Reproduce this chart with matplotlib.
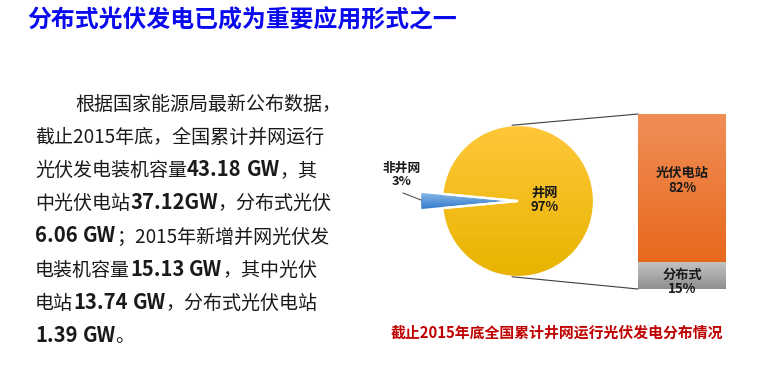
import numpy as np
import matplotlib
matplotlib.use("Agg")
import matplotlib.pyplot as plt
from matplotlib.colors import to_rgb
from matplotlib.patches import ConnectionPatch

plt.rcParams["font.family"] = ["Noto Sans CJK SC", "DejaVu Sans"]

# data
pie_labels = ["井网", "非井网"]
pie_values = [97, 3]
bar_labels = ["分布式", "光伏电站"]
bar_values = [15, 82]

title = "分布式光伏发电已成为重要应用形式之一"
caption = "截止2015年底全国累计井网运行光伏发电分布情况"

body_lines = [
    [("根据国家能源局最新公布数据，", False)],
    [("截止2015年底，全国累计并网运行", False)],
    [("光伏发电装机容量", False), ("43.18 GW", True), ("，其", False)],
    [("中光伏电站", False), ("37.12GW", True), ("，分布式光伏", False)],
    [("6.06 GW", True), ("；2015年新增并网光伏发", False)],
    [("电装机容量", False), ("15.13 GW", True), ("，其中光伏", False)],
    [("电站", False), ("13.74 GW", True), ("，分布式光伏电站", False)],
    [("1.39 GW", True), ("。", False)],
]

W, H = 760, 367
fig = plt.figure(figsize=(W / 100, H / 100), dpi=100)
fig.patch.set_facecolor("white")


def py(y):
    # pixel row from the top -> axes y
    return H - y


def gradient(ax, patch, extent, c_top, c_bot, z):
    top = np.array(to_rgb(c_top))
    bot = np.array(to_rgb(c_bot))
    t = np.linspace(0, 1, 64)[:, None, None]
    img = bot * (1 - t) + top * t
    im = ax.imshow(img, extent=extent, origin="lower", aspect="auto",
                   zorder=z, interpolation="bilinear")
    im.set_clip_path(patch)
    patch.set_facecolor("none")


# pie (main axes in pixel units)
ax = fig.add_axes([0, 0, 1, 1])
cx, cy, r = 518, py(201), 76
start = 180 + pie_values[1] * 360 / sum(pie_values) / 2
wedges, _ = ax.pie(pie_values, startangle=start, radius=r, center=(cx, cy),
                   colors=["#FFC000", "#4A90D9"],
                   wedgeprops=dict(edgecolor="white", linewidth=1.6))
wedges[1].set_radius(r * 1.29)
wedges[0].set_zorder(3)
wedges[1].set_zorder(3)

for w, ct, cb in [(wedges[0], "#FFC73A", "#E8B400"),
                  (wedges[1], "#8DBDEB", "#2F78C8")]:
    e = w.get_path().get_extents()
    gradient(ax, w, [e.x0, e.x1, e.y0, e.y1], ct, cb, 2)

ax.set_xlim(0, W)
ax.set_ylim(0, H)
ax.set_aspect("auto")
ax.axis("off")

ax.text(545, py(200), f"{pie_labels[0]}\n{pie_values[0]}%", ha="center",
        va="center", fontsize=9.5, fontweight="bold", color="#1a1a1a",
        linespacing=1.05, zorder=5)
ax.text(402, py(175), f"{pie_labels[1]}\n{pie_values[1]}%", ha="center",
        va="center", fontsize=9.2, fontweight="bold", color="#1a1a1a",
        linespacing=1.05, zorder=5)
ax.plot([403, 421], [py(193), py(200)], color="#555555", lw=0.8, zorder=4)

# bar of the pie
ax_bar = fig.add_axes([638 / W, (H - 289) / H, 88 / W, 175 / H])
total = sum(bar_values)
bars_bot = ax_bar.bar(0, bar_values[0], width=1, bottom=0, color="#A6A6A6")
bars_top = ax_bar.bar(0, bar_values[1], width=1, bottom=bar_values[0],
                      color="#EE7A30")
gradient(ax_bar, bars_top[0], [-0.5, 0.5, bar_values[0], total],
         "#F08E58", "#E8691C", 1)
gradient(ax_bar, bars_bot[0], [-0.5, 0.5, 0, bar_values[0]],
         "#C4C4C4", "#8F8F8F", 1)
ax_bar.set_xlim(-0.5, 0.5)
ax_bar.set_ylim(0, total)
ax_bar.axis("off")

ax_bar.text(0, bar_values[0] + bar_values[1] * 0.55,
            f"{bar_labels[1]}\n{bar_values[1]}%", ha="center", va="center",
            fontsize=9.5, fontweight="bold", color="#1a1a1a", linespacing=1.1)
ax_bar.text(0, bar_values[0] * 0.25, f"{bar_labels[0]}\n{bar_values[0]}%",
            ha="center", va="center", fontsize=9.5, fontweight="bold",
            color="#1a1a1a", linespacing=1.0, clip_on=False)

# connector lines pie -> bar
ang = np.deg2rad(94.5)
for sgn, yb in [(1, total), (-1, 0)]:
    con = ConnectionPatch(xyA=(cx + r * np.cos(ang), cy + sgn * r * np.sin(ang)),
                          coordsA=ax.transData, xyB=(-0.5, yb),
                          coordsB=ax_bar.transData, color="#404040", lw=0.8)
    fig.add_artist(con)

# texts
fig.text(27 / W, 1 - 21 / H, title, ha="left", va="center", fontsize=17.2,
         fontweight="bold", color="#0A0AEE")
fig.text(557 / W, 1 - 333 / H, caption, ha="center", va="center",
         fontsize=10.7, fontweight="bold", color="#C00000")

renderer = fig.canvas.get_renderer()
space_px = 5
for i, segs in enumerate(body_lines):
    x = 35 + (40 if i == 0 else 0)
    base = 110 + i * 33.1
    for s, bold in segs:
        words = s.split(" ")
        for k, word in enumerate(words):
            if k > 0:
                x += space_px
            t = fig.text(x / W, 1 - base / H, word, ha="left", va="baseline",
                         fontsize=14.6 if bold else 13.7,
                         fontweight="bold" if bold else "normal",
                         color="#1a1a1a")
            x = t.get_window_extent(renderer).x1

fig.savefig("out.png", dpi=100)
